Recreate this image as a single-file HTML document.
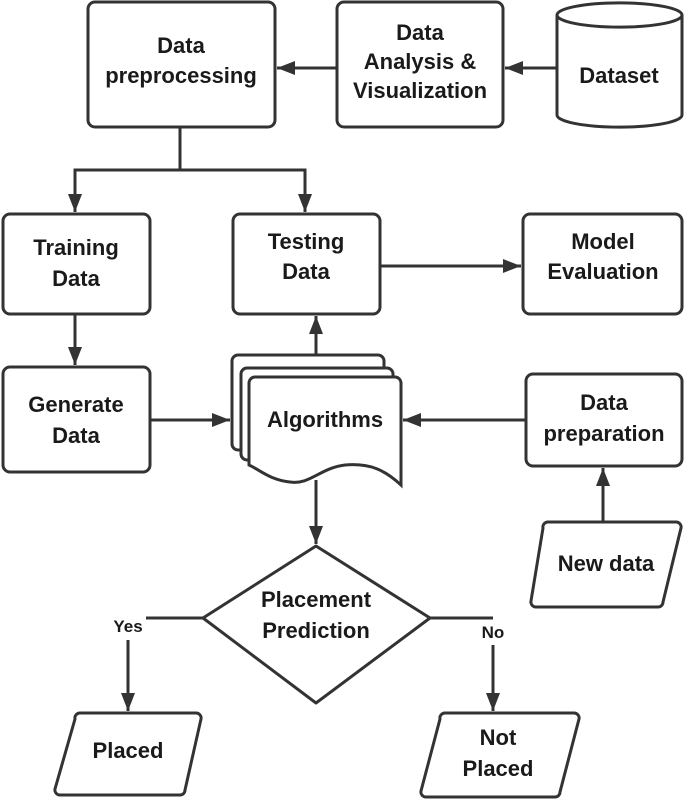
<!DOCTYPE html>
<html><head><style>
body{margin:0;background:#fff;}
svg text{font-family:"Liberation Sans",sans-serif;font-weight:bold;fill:#1a1a1a;text-anchor:middle;}
</style></head><body>
<svg width="685" height="799" viewBox="0 0 685 799" xmlns="http://www.w3.org/2000/svg">
<defs>
<marker id="b" markerWidth="20" markerHeight="14" refX="18" refY="7" orient="auto" markerUnits="userSpaceOnUse"><path d="M0,0 L18,7 L0,14 z" fill="#333"/></marker></defs>
<g fill="#fff" stroke="#333" stroke-width="3">
<rect x="88" y="2" width="187" height="125" rx="7"/>
<rect x="337" y="2" width="166" height="125" rx="7"/>
<path d="M557,15 a62,12 0 0 1 125,0 v100 a62,12 0 0 1 -125,0 z"/>
<path d="M557,15 a62,12 0 0 0 125,0" fill="none"/>
<rect x="3" y="214" width="147" height="100" rx="7"/>
<rect x="233" y="214" width="147" height="100" rx="7"/>
<rect x="523" y="214" width="159" height="100" rx="7"/>
<rect x="3" y="367" width="147" height="105" rx="7"/>
<rect x="526" y="374" width="156" height="92" rx="7"/>
<path d="M238,355 H378 a6,6 0 0 1 6,6 V450 L238,450 a6,6 0 0 1 -6,-6 V361 a6,6 0 0 1 6,-6z"/>
<path d="M247,368 H387 a6,6 0 0 1 6,6 V460 L247,460 a6,6 0 0 1 -6,-6 V374 a6,6 0 0 1 6,-6z"/>
<path d="M255,377 H395 a6,6 0 0 1 6,6 V485 C385,470 370,463 345,465 C320,468 310,485 290,482 C270,480 260,470 249,465 V383 a6,6 0 0 1 6,-6z"/>
<path d="M316,546 L430,618 L316,703 L203,618 z" stroke-linejoin="round"/>
<path d="M548,522 H676 a5,5 0 0 1 5,6 L663,602 a5,5 0 0 1 -5,5 H536 a5,5 0 0 1 -5,-6 L543,528 a5,5 0 0 1 5,-6z"/>
<path d="M80,713 H196 a5,5 0 0 1 5,6 L185,790 a5,5 0 0 1 -5,5 H60 a5,5 0 0 1 -5,-6 L75,719 a5,5 0 0 1 5,-6z"/>
<path d="M445,713 H574 a5,5 0 0 1 5,6 L560,792 a5,5 0 0 1 -5,5 H426 a5,5 0 0 1 -5,-6 L440,719 a5,5 0 0 1 5,-6z"/>
</g>
<g fill="none" stroke="#333" stroke-width="3">
<line x1="557" y1="68" x2="505" y2="68" marker-end="url(#b)"/>
<line x1="337" y1="68" x2="277" y2="68" marker-end="url(#b)"/>
<path d="M180,127 V170 H75 V212" marker-end="url(#b)"/>
<path d="M180,170 H305 V212" marker-end="url(#b)"/>
<line x1="380" y1="266" x2="521" y2="266" marker-end="url(#b)"/>
<line x1="75" y1="314" x2="75" y2="365" marker-end="url(#b)"/>
<line x1="150" y1="420" x2="230" y2="420" marker-end="url(#b)"/>
<line x1="526" y1="420" x2="403" y2="420" marker-end="url(#b)"/>
<line x1="316" y1="355" x2="316" y2="316" marker-end="url(#b)"/>
<line x1="316" y1="480" x2="316" y2="544" marker-end="url(#b)"/>
<line x1="603" y1="522" x2="603" y2="468" marker-end="url(#b)"/>
<line x1="203" y1="618" x2="146" y2="618"/>
<line x1="128" y1="640" x2="128" y2="711" marker-end="url(#b)"/>
<line x1="430" y1="618" x2="493" y2="618"/>
<line x1="493" y1="645" x2="493" y2="711" marker-end="url(#b)"/>
</g>
<g font-size="22">
<text x="181" y="53">Data</text><text x="181" y="83">preprocessing</text>
<text x="420" y="40">Data</text><text x="420" y="69">Analysis &amp;</text><text x="420" y="98">Visualization</text>
<text x="619" y="83">Dataset</text>
<text x="76" y="255">Training</text><text x="76" y="286">Data</text>
<text x="306" y="249">Testing</text><text x="306" y="279">Data</text>
<text x="603" y="249">Model</text><text x="603" y="279">Evaluation</text>
<text x="76" y="412">Generate</text><text x="76" y="443">Data</text>
<text x="325" y="427">Algorithms</text>
<text x="604" y="410">Data</text><text x="604" y="441">preparation</text>
<text x="606" y="571">New data</text>
<text x="316" y="607">Placement</text><text x="316" y="638">Prediction</text>
<text x="128" y="758">Placed</text>
<text x="498" y="745">Not</text><text x="498" y="776">Placed</text>
</g>
<g font-size="17"><text x="128" y="632">Yes</text><text x="493" y="638">No</text></g>
</svg>
</body></html>
